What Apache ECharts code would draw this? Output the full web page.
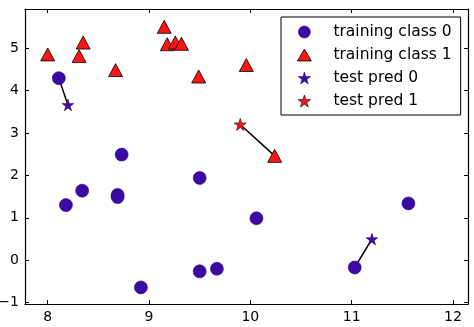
<!DOCTYPE html>
<html>
<head>
<meta charset="utf-8">
<script src="https://cdn.jsdelivr.net/npm/echarts@6/dist/echarts.min.js"></script>
<style>html,body{margin:0;padding:0;background:#fff}#c{width:474px;height:327px}</style>
</head>
<body>
<div id="c"></div>
<script>
// training class 0 (circles)
const class0X = [11.03, 8.69, 8.11, 9.67, 8.69, 8.92, 8.18, 8.73, 10.06, 9.50, 8.34, 9.50, 11.56];
const class0Y = [-0.17, 1.54, 4.29, -0.20, 1.49, -0.64, 1.30, 2.49, 0.99, -0.26, 1.64, 1.94, 1.34];
// training class 1 (triangles)
const class1X = [9.96, 8.31, 8.35, 8.67, 9.18, 10.24, 9.49, 9.26, 8.00, 9.32, 9.15];
const class1Y = [4.60, 4.81, 5.13, 4.48, 5.09, 2.46, 4.33, 5.13, 4.85, 5.10, 5.50];
// test points
const testPred0X = [8.2, 11.2];
const testPred0Y = [3.66, 0.5];
const testPred1X = [9.9];
const testPred1Y = [3.2];
// neighbour links: [testX, testY, neighbourX, neighbourY]
const links = [
  [8.2, 3.66, 8.11, 4.29],
  [9.9, 3.2, 10.24, 2.46],
  [11.2, 0.5, 11.03, -0.17]
];
const xTicks = [8, 9, 10, 11, 12];
const yTicks = [-1, 0, 1, 2, 3, 4, 5];

const blue = '#3b0aa5';
const red = '#ff1414';
const font = 'DejaVu Sans';
const zip = (xs, ys) => xs.map((x, i) => [x, ys[i]]);
const star = 'path://M0,-1L0.2245,-0.309L0.951,-0.309L0.363,0.118L0.588,0.809L0,0.382L-0.588,0.809L-0.363,0.118L-0.951,-0.309L-0.2245,-0.309Z';
const fmt = v => String(v).replace('-', '\u2212');

const xBase = {
  type: 'value', min: 7.776, max: 12.148,
  axisLine: { show: true, onZero: false, lineStyle: { color: '#000', width: 1.2 } },
  splitLine: { show: false },
  axisTick: { show: true, inside: true, length: 4, customValues: xTicks, lineStyle: { color: '#000', width: 1 } },
  axisLabel: { customValues: xTicks, color: '#000', fontFamily: font, fontSize: 14, margin: 6, formatter: fmt }
};
const yBase = {
  type: 'value', min: -1.03, max: 5.92,
  axisLine: { show: true, onZero: false, lineStyle: { color: '#000', width: 1.2 } },
  splitLine: { show: false },
  axisTick: { show: true, inside: true, length: 4, customValues: yTicks, lineStyle: { color: '#000', width: 1 } },
  axisLabel: { customValues: yTicks, color: '#000', fontFamily: font, fontSize: 14, margin: 6, formatter: fmt }
};

const series = [];
links.forEach(l => {
  series.push({
    type: 'line', data: [[l[0], l[1]], [l[2], l[3]]], symbol: 'none', silent: true,
    xAxisIndex: 1, yAxisIndex: 1,
    lineStyle: { color: '#000', width: 1.5 }, z: 1, animation: false
  });
});
series.push({
  name: 'training class 0', type: 'scatter', data: zip(class0X, class0Y),
  symbol: 'circle', symbolSize: 13,
  itemStyle: { color: blue, borderColor: '#2a0780', borderWidth: 0.6, opacity: 1 }, z: 3
});
series.push({
  name: 'training class 1', type: 'scatter', data: zip(class1X, class1Y),
  symbol: 'triangle', symbolSize: [14, 13],
  itemStyle: { color: red, borderColor: '#000', borderWidth: 0.8, opacity: 1 }, z: 3
});
series.push({
  name: 'test pred 0', type: 'scatter', data: zip(testPred0X, testPred0Y),
  symbol: star, symbolSize: 12,
  itemStyle: { color: blue, borderColor: '#2a0780', borderWidth: 0.5, opacity: 1 }, z: 4
});
series.push({
  name: 'test pred 1', type: 'scatter', data: zip(testPred1X, testPred1Y),
  symbol: star, symbolSize: 12,
  itemStyle: { color: red, borderColor: '#000', borderWidth: 0.6, opacity: 1 }, z: 4
});

const chart = echarts.init(document.getElementById('c'), null, { renderer: 'canvas' });
chart.setOption({
  animation: false,
  backgroundColor: '#fff',
  grid: { left: 25, top: 9, right: 6, bottom: 23, containLabel: false, outerBoundsMode: 'none' },
  xAxis: [
    Object.assign({}, xBase, { position: 'bottom' }),
    Object.assign({}, xBase, { position: 'top', axisLabel: { show: false } })
  ],
  yAxis: [
    Object.assign({}, yBase, { position: 'left' }),
    Object.assign({}, yBase, { position: 'right', axisLabel: { show: false } })
  ],
  legend: {
    orient: 'vertical', left: 281, top: 17,
    padding: [7, 9, 6, 16],
    itemWidth: 14, itemHeight: 12, itemGap: 7,
    backgroundColor: '#fff', borderColor: '#000', borderWidth: 1, borderRadius: 0,
    textStyle: { color: '#000', fontFamily: font, fontSize: 15.5, padding: [0, 0, 0, 17] },
    data: [
      { name: 'training class 0', icon: 'circle', itemStyle: { borderWidth: 0.6, borderColor: '#2a0780' } },
      { name: 'training class 1', icon: 'triangle', itemStyle: { borderWidth: 0.8, borderColor: '#000' } },
      { name: 'test pred 0', icon: star, itemStyle: { borderWidth: 0.5, borderColor: '#2a0780' } },
      { name: 'test pred 1', icon: star, itemStyle: { borderWidth: 0.6, borderColor: '#000' } }
    ],
    z: 10
  },
  series: series
});
</script>
</body>
</html>
